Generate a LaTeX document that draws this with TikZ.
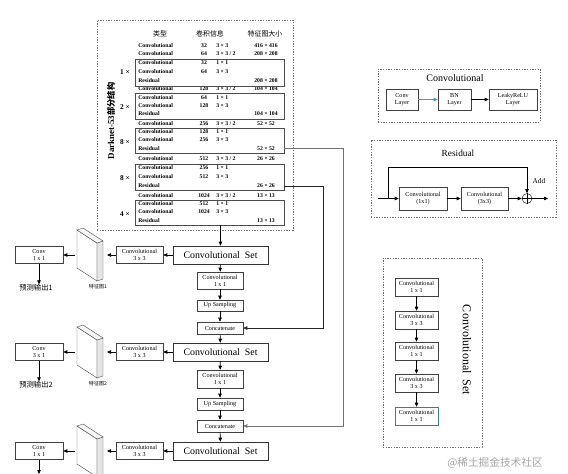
\documentclass[tikz,border=0pt]{standalone}
\usepackage{fontspec}
\setmainfont{Liberation Serif}
\newfontfamily\cjk{Noto Sans CJK SC}
\usetikzlibrary{arrows.meta,fit,calc}
\definecolor{bluel}{RGB}{70,150,200}
\definecolor{tealb}{RGB}{60,125,150}
\newcommand\trow[6]{%
  \node[tt,anchor=west] (#1t) at (138,#2) {#3};
  \node[tt] (#1n) at (204,#2) {#4};
  \node[tt,anchor=west] (#1k) at (216,#2) {#5};
  \node[tt] (#1o) at (266,#2) {#6};}
\newcommand\slab[2]{%
  \draw[slabst, fill=white] (#1,#2) -- ++(20,13) -- ++(0,38) -- ++(-20,-13) -- cycle;
  \draw[slabst, fill=gray!20] (#1+20,#2+13) -- ++(6,-2) -- ++(0,38) -- ++(-6,2) -- cycle;
  \draw[slabst, fill=gray!8] (#1,#2) -- ++(6,-2) -- ++(20,13) -- ++(-6,2) -- cycle;}
\begin{document}
\begin{tikzpicture}[x=0.75pt,y=-0.75pt,
  tt/.style={font=\fontsize{4.3}{5}\selectfont\bfseries, inner sep=0},
  hd/.style={font=\cjk\fontsize{5.2}{6}\selectfont, inner sep=0},
  mul/.style={font=\fontsize{5.5}{6}\selectfont\bfseries, inner sep=0},
  tbox/.style={draw=black!70, line width=0.4pt, inner sep=0},
  dbox/.style={draw=black!55, dash pattern=on 1pt off 1pt, line width=0.4pt, inner sep=0},
  sz/.style 2 args={minimum width=#1*0.75pt, minimum height=#2*0.75pt},
  sbox/.style={draw=black!75, line width=0.4pt, inner sep=0, align=center, font=\fontsize{4.6}{5.4}\selectfont},
  bigbox/.style={draw=black!80, line width=0.45pt, inner sep=0, font=\fontsize{7.4}{8}\selectfont, sz={95}{18}},
  arr/.style={-{Triangle[length=3pt,width=2.6pt]}, line width=0.5pt},
  slabst/.style={draw=black!65, line width=0.35pt},
  lab/.style={inner sep=0, font=\cjk\fontsize{5.5}{6}\selectfont},
  flab/.style={inner sep=0, font=\cjk\fontsize{3.8}{4.5}\selectfont}]
\useasboundingbox (0,0) rectangle (568,474);
\clip (0,0) rectangle (568,474);
\fill[white] (0,0) rectangle (568,474);

% ---------- table ----------
\node[dbox, fit={(97,20)(293,230)}] (tab) {};
\node[hd] (h1) at (160,34) {类型};
\node[hd] (h2) at (210,34) {卷积信息};
\node[hd] (h3) at (265,34) {特征图大小};
\node[rotate=90, inner sep=0, font=\fontsize{6.7}{7}\selectfont\bfseries] (dk) at (111,121) {Darknet-53{\cjk\fontsize{6.2}{7}\selectfont 部分结构}};

\trow{a}{46}{Convolutional}{32}{3 × 3}{416 × 416}
\trow{b}{54}{Convolutional}{64}{3 × 3 / 2}{208 × 208}
\trow{c}{63}{Convolutional}{32}{1 × 1}{}
\trow{d}{72}{Convolutional}{64}{3 × 3}{}
\trow{e}{81}{Residual}{}{}{208 × 208}
\trow{f}{89}{Convolutional}{128}{3 × 3 / 2}{104 × 104}
\trow{g}{98}{Convolutional}{64}{1 × 1}{}
\trow{h}{106}{Convolutional}{128}{3 × 3}{}
\trow{i}{114}{Residual}{}{}{104 × 104}
\trow{j}{124}{Convolutional}{256}{3 × 3 / 2}{52 × 52}
\trow{k}{132}{Convolutional}{128}{1 × 1}{}
\trow{l}{140}{Convolutional}{256}{3 × 3}{}
\trow{m}{149}{Residual}{}{}{52 × 52}
\trow{n}{159}{Convolutional}{512}{3 × 3 / 2}{26 × 26}
\trow{o}{168}{Convolutional}{256}{1 × 1}{}
\trow{p}{177}{Convolutional}{512}{3 × 3}{}
\trow{q}{186}{Residual}{}{}{26 × 26}
\trow{r}{196}{Convolutional}{1024}{3 × 3 / 2}{13 × 13}
\trow{s}{204}{Convolutional}{512}{1 × 1}{}
\trow{t}{212}{Convolutional}{1024}{3 × 3}{}
\trow{u}{221}{Residual}{}{}{13 × 13}

\node[tbox, fit={(135,59)(284,86)}] (b1) {};
\node[tbox, fit={(135,93)(284,119)}] (b2) {};
\node[tbox, fit={(135,128)(284,153)}] (b3) {};
\node[tbox, fit={(135,164)(284,190)}] (b4) {};
\node[tbox, fit={(135,200)(284,225)}] (b5) {};
\node[mul] (m1) at (125,72) {1 ×};
\node[mul] (m2) at (125,107) {2 ×};
\node[mul] (m3) at (125,142) {8 ×};
\node[mul] (m4) at (125,178) {8 ×};
\node[mul] (m5) at (125,214) {4 ×};

% ---------- pipeline ----------
\node[bigbox] (cs1) at (220.5,255) {Convolutional\ \ Set};
\node[sbox, sz={46}{17}] (c11) at (220,280.5) {Convolutional\\1 x 1};
\node[sbox, sz={46}{11}] (up1) at (220,305.5) {Up Sampling};
\node[sbox, sz={46}{12}] (cc1) at (220,328) {Concatenate};
\node[bigbox] (cs2) at (220.5,352) {Convolutional\ \ Set};
\node[sbox, sz={46}{18}] (c12) at (220,379) {Convolutional\\1 x 1};
\node[sbox, sz={46}{12}] (up2) at (220,404) {Up Sampling};
\node[sbox, sz={46}{12}] (cc2) at (220,426) {Concatenate};
\node[bigbox] (cs3) at (220.5,451) {Convolutional\ \ Set};

\draw[arr] (cs1.north |- b5.south) -- (cs1.north);
\draw[arr] (cs1) -- (c11);
\draw[arr] (c11) -- (up1);
\draw[arr] (up1) -- (cc1);
\draw[arr] (cc1) -- (cs2);
\draw[arr] (cs2) -- (c12);
\draw[arr] (c12) -- (up2);
\draw[arr] (up2) -- (cc2);
\draw[arr] (cc2) -- (cs3);

\coordinate (j1) at (343,148);
\coordinate (j2) at (323,186);
\draw[arr, draw=black!55] (b3.east |- j1) -- (j1) |- (cc2.east);
\draw[arr, draw=black!85] (b4.east |- j2) -- (j2) |- (cc1.east);

% ---------- left outputs ----------
\node[sbox, sz={47}{17}] (k1) at (139.5,255) {Convolutional\\3 x 3};
\node[sbox, sz={47}{17}] (k2) at (139.5,352) {Convolutional\\3 x 3};
\node[sbox, sz={47}{17}] (k3) at (139.5,451) {Convolutional\\3 x 3};
\node[sbox, sz={48}{17}] (p1) at (39,255) {Conv\\1 x 1};
\node[sbox, sz={48}{17}] (p2) at (39,352) {Conv\\3 x 1};
\node[sbox, sz={48}{17}] (p3) at (39,451) {Conv\\1 x 1};
\slab{77}{230}
\slab{77}{327}
\slab{77}{426}
\coordinate (s1r) at (107,255); \coordinate (s1l) at (75,255);
\coordinate (s2r) at (107,352); \coordinate (s2l) at (75,352);
\coordinate (s3r) at (107,451); \coordinate (s3l) at (75,451);
\node[flab] (f1) at (98,287) {特征图1};
\node[flab] (f2) at (98,384) {特征图2};
\node[lab] (o1) at (36,288) {预测输出1};
\node[lab] (o2) at (36,385) {预测输出2};
\coordinate (o3) at (39,474);
\foreach \i in {1,2,3}{
  \draw[arr] (cs\i.west) -- (k\i.east);
  \draw[arr] (k\i.west) -- (s\i r);
  \draw[arr] (s\i l) -- (p\i.east);
}
\draw[arr] (p1.south) -- (p1.south |- o1.north);
\draw[arr] (p2.south) -- (p2.south |- o2.north);
\draw[arr] (p3.south) -- (p3.south |- o3);

% ---------- Convolutional block ----------
\node[dbox, fit={(378,69)(540,122)}] (cbox) {};
\node[inner sep=0, font=\fontsize{7.5}{8}\selectfont] (ctitle) at (455,78) {Convolutional};
\node[sbox, sz={32}{21}] (cl) at (402,99.5) {Conv\\Layer};
\node[sbox, sz={33}{21}] (bn) at (454.5,99.5) {BN\\Layer};
\node[sbox, sz={48}{21}] (lr) at (513,99.5) {LeakyReLU\\Layer};
\draw[arr, draw=bluel] (cl) -- (bn);
\draw[arr] (bn) -- (lr);

% ---------- Residual block ----------
\node[dbox, fit={(371,140)(556,217)}] (rbox) {};
\node[inner sep=0, font=\fontsize{7}{8}\selectfont] (rtitle) at (458,153) {Residual};
\node[sbox, sz={48}{23}] (r1) at (423,198.5) {Convolutional\\(1x1)};
\node[sbox, sz={47}{23}] (r2) at (484.5,198.5) {Convolutional\\(3x3)};
\node[draw=black!80, circle, line width=0.4pt, minimum size=7.5pt, inner sep=0] (add) at (527,198.5) {};
\draw[line width=0.4pt] (add.north) -- (add.south) (add.west) -- (add.east);
\node[inner sep=0, font=\fontsize{5.5}{6}\selectfont] (addl) at (539,181) {Add};
\coordinate (rin) at (378,198.5);
\coordinate (rbr) at (388,198.5);
\coordinate (rtop) at (527,167);
\coordinate (rout) at (548,198.5);
\draw[arr] (rin) -- (r1.west);
\draw[arr] (rbr) |- (rtop) -- (add.north);
\draw[arr] (r1) -- (r2);
\draw[arr] (r2) -- (add);
\draw[arr] (add) -- (rout);

% ---------- Convolutional Set block ----------
\node[dbox, fit={(383,258)(482,447)}] (sbx) {};
\node[sbox, sz={43}{18}] (q1) at (416.5,287) {Convolutional\\1 x 1};
\node[sbox, sz={43}{18}] (q2) at (416.5,320) {Convolutional\\3 x 3};
\node[sbox, sz={43}{18}] (q3) at (416.5,351) {Convolutional\\1 x 1};
\node[sbox, sz={43}{18}] (q4) at (416.5,383) {Convolutional\\3 x 3};
\node[sbox, draw=tealb, sz={43}{18}] (q5) at (416.5,416) {Convolutional\\1 x 1};
\draw[arr] (q1) -- (q2);
\draw[arr] (q2) -- (q3);
\draw[arr] (q3) -- (q4);
\draw[arr] (q4) -- (q5);
\node[rotate=-90, inner sep=0, font=\fontsize{9}{10}\selectfont] (stitle) at (467,350) {Convolutional\ \ Set};

% watermark
\node[anchor=west, inner sep=0, text=black!35, font=\cjk\fontsize{8}{9}\selectfont] (wm) at (447,463) {@稀土掘金技术社区};
\end{tikzpicture}
\end{document}
